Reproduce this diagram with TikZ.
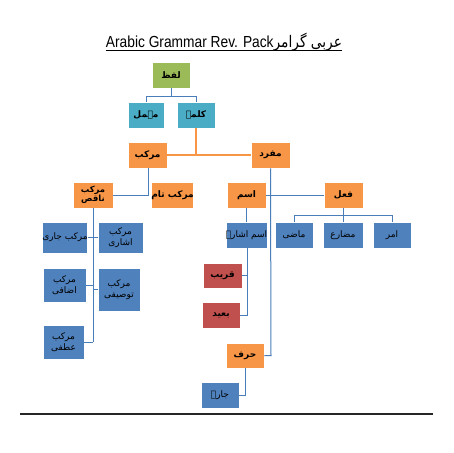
\documentclass[tikz,border=0pt]{standalone}
\usepackage{fontspec}
\setmainfont{Liberation Sans}
\newfontfamily\arabicfont[Script=Arabic]{DejaVu Sans}
\TeXXeTstate=1
\newcommand\artxt[1]{\beginR #1\endR}
\definecolor{cgreen}{HTML}{9BBB59}
\definecolor{cteal}{HTML}{4BACC6}
\definecolor{corange}{HTML}{F79646}
\definecolor{cblue}{HTML}{4F81BD}
\definecolor{cred}{HTML}{C0504D}
\definecolor{cline}{HTML}{4A7EBB}
\tikzset{
  box/.style={draw=white, line width=0.5pt, inner sep=0pt, align=center,
    minimum width=38pt, minimum height=26pt, text=black,
    font=\arabicfont\bfseries\fontsize{9}{10.5}\selectfont},
  gbox/.style={box, fill=cgreen},
  tbox/.style={box, fill=cteal},
  obox/.style={box, fill=corange},
  rbox/.style={box, fill=cred},
  bbox/.style={box, fill=cblue, font=\arabicfont\fontsize{9}{11}\selectfont},
  conn/.style={draw=cline, line width=1pt},
  oconn/.style={draw=corange, line width=1.2pt},
}
\begin{document}
\begin{tikzpicture}[x=1pt,y=-1pt]
\useasboundingbox (0,0) rectangle (453,453);
\fill[white] (0,0) rectangle (453,453);
% title
\node[inner sep=0pt, anchor=base, xscale=0.86, font=\fontsize{16}{18}\selectfont] (title) at (224,47)
  {Arabic Grammar Rev. Pack{\arabicfont\artxt{عربی گرامر}}};
\draw[line width=1pt] ([yshift=-3pt]title.base west) -- ([yshift=-3pt]title.base east);
% nodes
\node[gbox] (lafz) at (171,75) {\artxt{لفظ}};
\node[tbox, minimum width=36pt] (muhmal) at (146,115) {\artxt{مہمل}};
\node[tbox] (kalma) at (196,115) {\artxt{کلمہ}};
\node[obox, minimum width=39pt] (murakkab) at (147.5,155) {\artxt{مرکب}};
\node[obox, minimum width=39pt] (mufrad) at (270.5,155) {\artxt{مفرد}};
\node[obox, minimum width=40pt, font=\arabicfont\bfseries\fontsize{8.5}{9.5}\selectfont] (naqis) at (93,195) {\artxt{مرکب}\\\artxt{ناقص}};
\node[obox, minimum width=39pt] (tam) at (172.5,195) {\artxt{مرکب تام}};
\node[bbox, minimum width=44pt, minimum height=31pt] (jari) at (65,237.5) {\artxt{مرکب جاری}};
\node[bbox, minimum width=45pt, minimum height=31pt] (ishari) at (120.5,237.5) {\artxt{مرکب}\\\artxt{اشاری}};
\node[bbox, minimum width=43pt, minimum height=34pt] (izafi) at (64.5,285) {\artxt{مرکب}\\\artxt{اضافی}};
\node[bbox, minimum width=42pt, minimum height=43pt] (tausifi) at (119,289.5) {\artxt{مرکب}\\\artxt{توصیفی}};
\node[bbox, minimum width=41pt, minimum height=34pt] (atfi) at (63.5,342) {\artxt{مرکب}\\\artxt{عطفی}};
\node[obox, minimum width=39pt] (ism) at (246.5,195) {\artxt{اسم}};
\node[obox, minimum width=39pt] (fel) at (343.5,195) {\artxt{فعل}};
\node[bbox, minimum width=39pt] (ishara) at (246.5,235) {\artxt{اسم اشارہ}};
\node[bbox] (mazi) at (294,235) {\artxt{ماضی}};
\node[bbox, minimum width=40pt] (muzare) at (343,235) {\artxt{مضارع}};
\node[bbox] (amr) at (392,235) {\artxt{امر}};
\node[rbox, minimum width=39pt, minimum height=25pt] (qareeb) at (222.5,275.5) {\artxt{قریب}};
\node[rbox] (baeed) at (221,315) {\artxt{بعید}};
\node[obox, minimum width=38pt, minimum height=25pt] (harf) at (245,355.5) {\artxt{حرف}};
\node[bbox] (jara) at (220,395) {\artxt{جارہ}};
% connectors
\coordinate (l1) at (171,96);
\draw[conn] (lafz.south) -- (l1);
\draw[conn] (l1) -| (muhmal.north);
\draw[conn] (l1) -| (kalma.north);
\draw[oconn] (murakkab.east) -- (mufrad.west);
\draw[oconn] (kalma.south) -- (kalma.south |- murakkab.east);
\coordinate (m1) at (148,195);
\draw[conn] (m1 |- murakkab.south) -- (m1) -- (naqis.east);
\coordinate (nq) at (93,342);
\draw[conn] (naqis.south) -- (nq);
\draw[conn] (jari.east) -- (jari.east -| naqis.south);
\draw[conn] (ishari.west) -- (ishari.west -| naqis.south);
\draw[conn] (izafi.east) -- (izafi.east -| naqis.south);
\draw[conn] (tausifi.west) -- (tausifi.west -| naqis.south);
\draw[conn] (atfi.east) -- (nq);
\coordinate (mf) at (271,355.5);
\draw[conn] (mufrad.south) -- (mf) -- (harf.east);
\draw[conn] (ism.east) -- (fel.west);
\coordinate (f1) at (343.5,215);
\draw[conn] (fel.south) -- (f1);
\draw[conn] (f1) -| (mazi.north);
\draw[conn] (f1) -| (muzare.north);
\draw[conn] (f1) -| (amr.north);
\draw[conn] (ism.south) -- (ishara.north);
\coordinate (is) at (247,315);
\draw[conn] (is |- ishara.south) -- (is) -- (baeed.east);
\draw[conn] (qareeb.east) -- (qareeb.east -| is);
\coordinate (h1) at (245,395);
\draw[conn] (harf.south) -- (h1) -- (jara.east);
% bottom rule
\coordinate (b1) at (20,414);
\coordinate (b2) at (433,414);
\draw[line width=1.3pt, black!85] (b1) -- (b2);
\end{tikzpicture}
\end{document}
